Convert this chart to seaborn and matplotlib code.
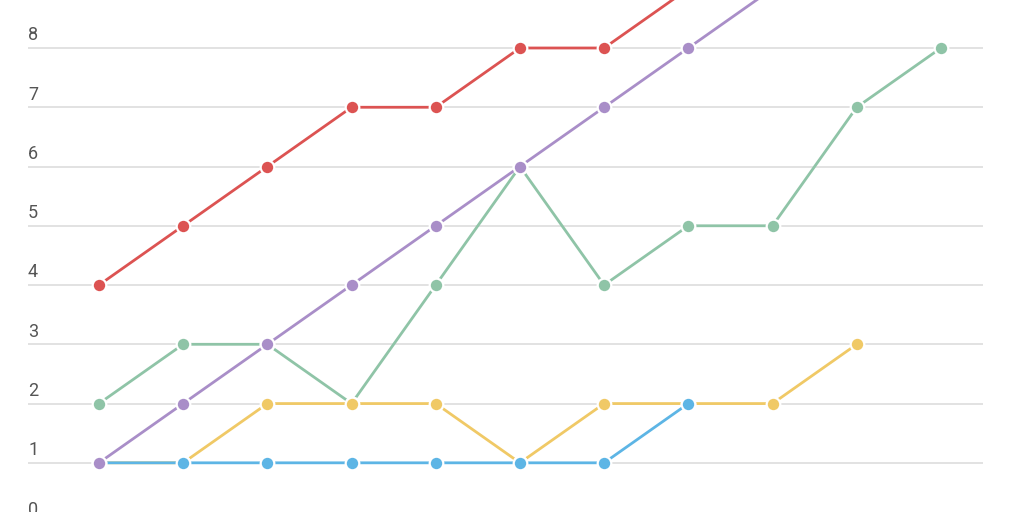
import numpy as np
import pandas as pd
import matplotlib
matplotlib.use("Agg")
import matplotlib.pyplot as plt
import matplotlib.transforms as mtransforms
import seaborn as sns

steps = list(range(11))
green = [2, 3, 3, 2, 4, 6, 4, 5, 5, 7, 8]
yellow = [1, 1, 2, 2, 2, 1, 2, 2, 2, 3, np.nan]
blue = [1, 1, 1, 1, 1, 1, 1, 2, np.nan, np.nan, np.nan]
purple = [1, 2, 3, 4, 5, 6, 7, 8, 9, 10, 10]
red = [4, 5, 6, 7, 7, 8, 8, 9, 10, 10, 11]
y_ticks = [0, 1, 2, 3, 4, 5, 6, 7, 8]

series_names = ["green", "yellow", "blue", "purple", "red"]
colors = ["#8fc4a7", "#f0c966", "#5db5e5", "#a98ec8", "#dc5352"]


def build_frame():
    rows = []
    for name, vals in zip(series_names, [green, yellow, blue, purple, red]):
        for x, v in zip(steps, vals):
            rows.append({"step": x, "value": v, "series": name})
    df = pd.DataFrame(rows)
    return df.dropna()


df = build_frame()

sns.set_style("white")
plt.rcParams["font.family"] = ["Roboto", "DejaVu Sans"]

fig = plt.figure(figsize=(10.24, 5.12), dpi=100)
ax = fig.add_axes([28 / 1024, 0, (983 - 28) / 1024, 1])

sns.lineplot(data=df, x="step", y="value", hue="series", hue_order=series_names,
             palette=colors, marker="o", markersize=9.8, markeredgecolor="white",
             markeredgewidth=1.6, linewidth=2.0, legend=False, ax=ax)

ax.set_yticks(y_ticks)
ax.set_xticks([])
# set limits after ticks, otherwise set_yticks widens the view
ax.set_xlim(-0.843, 10.5)
ax.set_ylim(0.17, 8.81)
ax.yaxis.grid(True, color="#dddddd", linewidth=1.2)
ax.set_axisbelow(True)
ax.tick_params(left=False, labelleft=False)
ax.set_xlabel("")
ax.set_ylabel("")
for s in ax.spines.values():
    s.set_visible(False)

trans = mtransforms.blended_transform_factory(ax.transAxes, ax.transData)
for t in y_ticks:
    ax.text(0.0, t + 0.06, str(t), transform=trans, ha="left", va="bottom",
            fontsize=13, color="#555555", clip_on=False)

fig.savefig("out.png", dpi=100)
